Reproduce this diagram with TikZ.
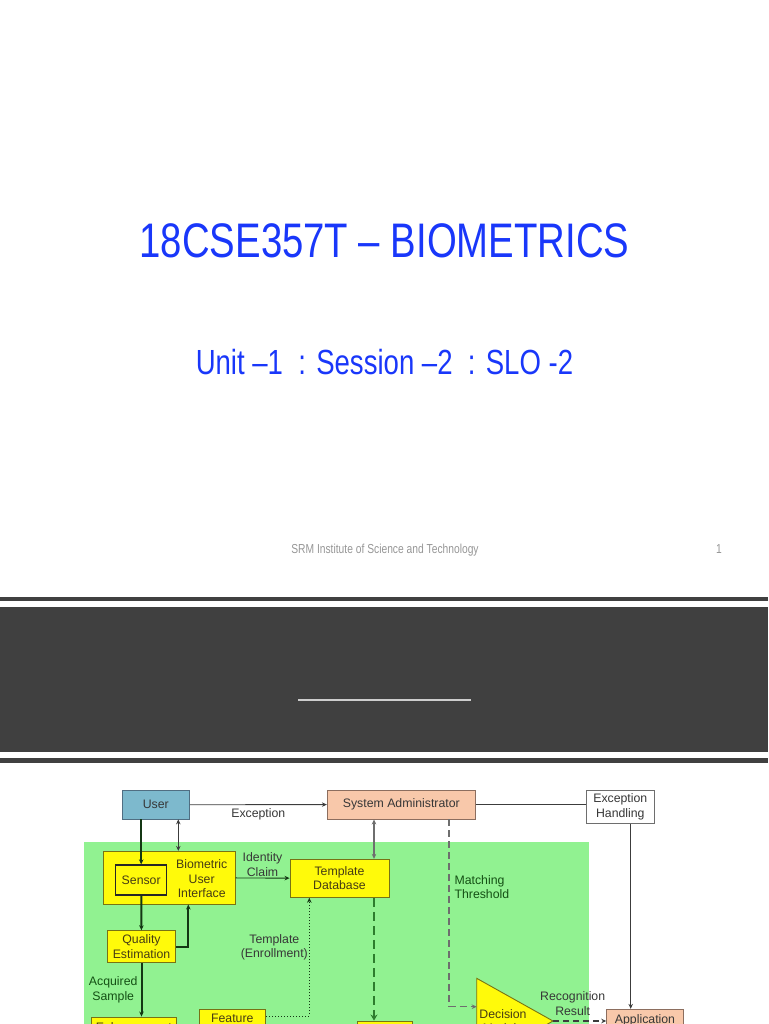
\documentclass[tikz,border=0pt]{standalone}
\usepackage{fontspec}
\setmainfont{Liberation Sans}
\newfontfamily\slidefont[FakeStretch=0.79]{Liberation Sans}
\usetikzlibrary{arrows.meta,positioning,calc}

\definecolor{slideblue}{RGB}{25,55,250}
\definecolor{slidegray}{RGB}{64,64,64}
\definecolor{rulegray}{RGB}{205,205,205}
\definecolor{footgray}{RGB}{150,150,150}
\definecolor{greenbg}{RGB}{145,242,145}
\definecolor{boxyellow}{RGB}{255,250,10}
\definecolor{boxedge}{RGB}{120,115,20}
\definecolor{boxtext}{RGB}{70,60,20}
\definecolor{peach}{RGB}{248,200,170}
\definecolor{peachedge}{RGB}{140,110,95}
\definecolor{userblue}{RGB}{125,185,205}
\definecolor{useredge}{RGB}{80,110,130}
\definecolor{linegray}{RGB}{60,60,60}
\definecolor{darkline}{RGB}{20,55,20}
\definecolor{tdgreen}{RGB}{45,125,45}
\definecolor{threshgray}{RGB}{110,110,110}
\definecolor{labeltext}{RGB}{55,55,55}
\definecolor{greentext}{RGB}{20,80,20}

\newcommand{\diagfont}{\fontsize{12.3}{14.5}\selectfont}

\begin{document}
\begin{tikzpicture}[x=1pt, y=-1pt,
    box/.style={draw, rectangle, align=center, font=\diagfont, inner sep=1pt, line width=0.9pt},
    ybox/.style={box, fill=boxyellow, draw=boxedge, text=boxtext},
    pbox/.style={box, fill=peach, draw=peachedge, text=labeltext},
    lbl/.style={font=\diagfont, align=center, text=labeltext, inner sep=1pt},
    arr/.style={-{Stealth[length=5pt,width=4.5pt]}},
    darr/.style={{Stealth[length=5pt,width=4.5pt]}-{Stealth[length=5pt,width=4.5pt]}},
    thin line/.style={line width=0.9pt, linegray},
    heavy line/.style={line width=2pt, darkline},
]
    \useasboundingbox (0,0) rectangle (768,1024);
    \clip (0,0) rectangle (768,1024);

    % Slide 1
    \node[font=\slidefont\fontsize{48.5}{58}\selectfont, text=slideblue, anchor=base, inner sep=0] (title) at (384.5,257.3) {18CSE357T – BIOMETRICS};
    \node[font=\slidefont\fontsize{34.9}{42}\selectfont, text=slideblue, anchor=base, inner sep=0] (subtitle) at (384.5,374) {Unit –1 \ : Session –2 \ : SLO -2};
    \node[font=\slidefont\fontsize{13}{15}\selectfont, text=footgray, anchor=base, inner sep=0] (footer) at (385,553) {SRM Institute of Science and Technology};
    \node[font=\slidefont\fontsize{13}{15}\selectfont, text=footgray, anchor=base, inner sep=0] (pagenum) at (719,553) {1};

    % Slide 2
    \fill[slidegray] (0,597) rectangle (768,601);
    \fill[slidegray] (0,607) rectangle (768,752);
    \fill[slidegray] (0,758) rectangle (768,762.5);
    \draw[line width=2pt, rulegray] (298,700) -- (471,700);

    % Slide 3: system diagram
    \fill[greenbg] (84,841.7) rectangle (589.3,1040);

    \node[box, fill=userblue, draw=useredge, text=labeltext, minimum width=67pt, minimum height=28.3pt] (user) at (155.8,804.8) {User};
    \node[pbox, minimum width=148pt, minimum height=29pt] (admin) at (401.3,804.5) {System Administrator};
    \node[box, fill=white, draw=threshgray, text=labeltext, minimum width=68.7pt, minimum height=33.7pt] (exch) at (620.3,806.8) {Exception\\Handling};

    \node[ybox, minimum width=131.7pt, minimum height=52.7pt] (bui) at (169.2,877.7) {};
    \node[lbl, text=boxtext] (buitext) at (201.7,879) {Biometric\\User\\Interface};
    \node[ybox, draw=black!85, line width=1.3pt, minimum width=51pt, minimum height=30pt] (sensor) at (141.2,880) {Sensor};
    \node[ybox, minimum width=99pt, minimum height=38pt] (td) at (339.5,878.3) {Template\\Database};
    \node[ybox, minimum width=68.4pt, minimum height=32pt] (qe) at (141.5,946.7) {Quality\\Estimation};
    \node[ybox, minimum width=85.7pt, minimum height=20pt] (enh) at (133.8,1027) {Enhancement};
    \node[ybox, minimum width=66.7pt, minimum height=33.4pt] (feat) at (232.3,1026) {Feature\\Extraction};
    \node[ybox, minimum width=55pt, minimum height=30pt] (match) at (384.5,1036) {};
    \node[pbox, minimum width=76.6pt, minimum height=22pt] (app) at (645,1020.3) {Application};

    % decision module
    \draw[fill=boxyellow, draw=boxedge, line width=0.9pt] (476.7,978.3) -- (553,1021) -- (476.7,1063.7) -- cycle;
    \coordinate (dapex) at (553,1021);
    \coordinate (dleft) at (476.7,1006.7);
    \node[lbl, text=boxtext] (dectext) at (503,1021) {Decision\\Module};

    % connector columns
    \coordinate (exline) at (630.7,0);
    \coordinate (uiline) at (178.3,0);
    \coordinate (dbline) at (374,0);
    \coordinate (qeline) at (188.3,0);
    \coordinate (tmline) at (309.3,0);
    \coordinate (thline) at (449,0);

    % connectors
    \draw[arr, thin line] (user) -- node[lbl, below=2pt] {Exception} (admin);
    \draw[thin line] (admin.east) -- (admin.east -| exch.west);
    \draw[arr, thin line] (exline |- exch.south) -- (exline |- app.north);
    \draw[darr, thin line] (uiline |- user.south) -- (uiline |- bui.north);
    \draw[arr, heavy line] (sensor.north |- user.south) -- (sensor.north);
    \draw[arr, thin line, darkline] (bui) -- node[lbl, above] {Identity\\Claim} (td);
    \draw[darr, line width=1.2pt, threshgray] (dbline |- admin.south) -- (dbline |- td.north);
    \draw[-{Stealth[length=6pt,width=7pt]}, line width=2.6pt, tdgreen, dash pattern=on 9pt off 5pt] (dbline |- td.south) -- (dbline |- match.north);
    \draw[arr, heavy line] (sensor) -- (qe);
    \draw[arr, heavy line] (qe.east) -| (qeline |- bui.south);
    \draw[arr, heavy line] (qe.south) -- node[lbl, left=2pt, text=greentext] {Acquired\\Sample} (qe.south |- enh.north);
    \draw[arr, line width=1pt, darkline, dotted] ([yshift=10pt]feat.east) -| node[lbl, left=0pt, pos=0.79] {Template\\(Enrollment)} (tmline |- td.south);
    \draw[arr, line width=1.1pt, threshgray, dash pattern=on 7pt off 4pt] (thline |- admin.south) |- node[lbl, right=4pt, pos=0.18, align=left, text=greentext] {Matching\\Threshold} (dleft);
    \draw[arr, line width=1.3pt, linegray, dash pattern=on 6pt off 4pt] (dapex) -- node[lbl, above=4pt, pos=0.37] {Recognition\\Result} (dapex -| app.west);
\end{tikzpicture}
\end{document}
